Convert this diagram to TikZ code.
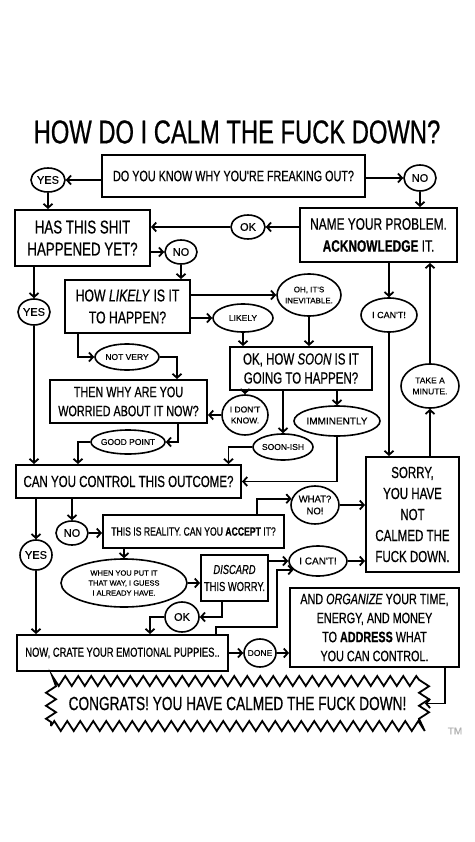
\documentclass[tikz,border=0pt]{standalone}
\usepackage{fontspec}
\newfontfamily\hand[FakeStretch=0.72,FakeBold=0.6]{Liberation Sans}
\newfontfamily\handn[FakeBold=0.5]{Liberation Sans}
\usetikzlibrary{arrows.meta,shapes.geometric,decorations.pathmorphing}
\newcommand\fsz[2]{\fontsize{#1}{#2}\selectfont}
\begin{document}
\begin{tikzpicture}[x=1pt,y=-1pt,
  box/.style={draw, line width=2pt, inner sep=0pt, align=center},
  oval/.style={draw, ellipse, line width=1.6pt, inner sep=-1.5pt, align=center},
  arr/.style={line width=1.8pt, -{Straight Barb[length=4pt,width=9pt]}}]
\useasboundingbox (0,0) rectangle (474,842);
\fill[white] (0,0) rectangle (474,842);

\node[font=\hand\fsz{33}{36}] (title) at (237,132) {HOW DO I CALM THE FUCK DOWN?};

\node[box, line width=2.8pt, minimum width=263pt, minimum height=42pt, font=\hand\fsz{15}{18}] (q1) at (233.5,176) {DO YOU KNOW WHY YOU'RE FREAKING OUT?};
\node[oval, minimum width=34pt, minimum height=24pt, font=\handn\fsz{11}{13}] (yes1) at (48,180) {YES};
\node[oval, minimum width=32pt, minimum height=26pt, font=\handn\fsz{11}{13}] (no1) at (420,178) {NO};

\node[box, minimum width=135pt, minimum height=56pt, font=\hand\fsz{18.5}{22}] (has) at (82.5,238) {HAS THIS SHIT\\HAPPENED YET?};
\node[box, minimum width=157pt, minimum height=54pt, font=\hand\fsz{16.5}{22}] (name) at (378.5,235) {NAME YOUR PROBLEM.\\\textbf{ACKNOWLEDGE} IT.};
\node[oval, minimum width=34pt, minimum height=24pt, font=\handn\fsz{11}{13}] (ok1) at (248,227) {OK};
\node[oval, minimum width=32pt, minimum height=24pt, font=\handn\fsz{11}{13}] (no2) at (181,252) {NO};
\node[oval, minimum width=32pt, minimum height=26pt, font=\handn\fsz{11}{13}] (yes2) at (34,312) {YES};

\node[box, minimum width=125pt, minimum height=53pt, font=\hand\fsz{17}{22}] (likelybox) at (127.5,306.5) {HOW \textit{LIKELY} IS IT\\TO HAPPEN?};
\node[oval, minimum width=64pt, minimum height=42pt, font=\handn\fsz{8}{11}] (inev) at (309,295) {OH, IT'S\\INEVITABLE.};
\node[oval, minimum width=60pt, minimum height=28pt, font=\handn\fsz{8.5}{10}] (likely) at (243,318) {LIKELY};
\node[oval, minimum width=64pt, minimum height=26pt, font=\handn\fsz{8.5}{10}] (notvery) at (127,357) {NOT VERY};

\node[box, minimum width=157pt, minimum height=43pt, font=\hand\fsz{15}{19}] (then) at (128.5,401.5) {THEN WHY ARE YOU\\WORRIED ABOUT IT NOW?};
\node[oval, minimum width=74pt, minimum height=24pt, font=\handn\fsz{8.5}{10}] (good) at (128,442) {GOOD POINT};

\node[box, minimum width=142pt, minimum height=43pt, font=\hand\fsz{16}{19}] (soon) at (301,368.5) {OK, HOW \textit{SOON} IS IT\\GOING TO HAPPEN?};
\node[oval, minimum width=46pt, minimum height=40pt, font=\handn\fsz{8.5}{11}] (dontknow) at (245,415) {I DON'T\\KNOW.};
\node[oval, minimum width=60pt, minimum height=26pt, font=\handn\fsz{8.5}{10}] (soonish) at (283,447) {SOON-ISH};
\node[oval, minimum width=86pt, minimum height=30pt, font=\handn\fsz{10}{12}] (imminent) at (337,421) {IMMINENTLY};

\node[oval, minimum width=56pt, minimum height=34pt, font=\handn\fsz{9}{11}] (icant1) at (389,315) {I CAN'T!};
\node[oval, minimum width=58pt, minimum height=44pt, font=\handn\fsz{8.5}{11}] (take) at (430,386) {TAKE A\\MINUTE.};
\node[box, minimum width=93pt, minimum height=115pt, font=\hand\fsz{16}{21}] (sorry) at (412.5,514.5) {SORRY,\\YOU HAVE\\NOT\\CALMED THE\\FUCK DOWN.};

\node[box, minimum width=225pt, minimum height=33pt, font=\hand\fsz{16}{19}] (can) at (128.5,481.5) {CAN YOU CONTROL THIS OUTCOME?};
\node[oval, minimum width=32pt, minimum height=30pt, font=\handn\fsz{11}{13}] (yes3) at (36,555) {YES};
\node[oval, minimum width=32pt, minimum height=24pt, font=\handn\fsz{11}{13}] (no3) at (72,533) {NO};
\node[box, minimum width=181pt, minimum height=33pt, font=\hand\fsz{12}{15}] (accept) at (193.5,531.5) {THIS IS REALITY. CAN YOU \textbf{ACCEPT} IT?};
\node[oval, minimum width=48pt, minimum height=38pt, font=\handn\fsz{9.5}{12}] (what) at (315,505) {WHAT?\\NO!};
\node[oval, minimum width=126pt, minimum height=48pt, font=\handn\fsz{7.5}{10}] (when) at (124,583) {WHEN YOU PUT IT\\THAT WAY, I GUESS\\I ALREADY HAVE.};
\node[box, minimum width=67pt, minimum height=46pt, font=\hand\fsz{13}{17}] (discard) at (234.5,578) {\textit{DISCARD}\\THIS WORRY.};
\node[oval, minimum width=58pt, minimum height=30pt, font=\handn\fsz{10}{12}] (icant2) at (318,561) {I CAN'T!};
\node[oval, minimum width=34pt, minimum height=30pt, font=\handn\fsz{11}{13}] (ok2) at (182,617) {OK};

\node[box, minimum width=211pt, minimum height=36pt, font=\hand\fsz{13}{16}] (crate) at (122.5,653) {NOW, CRATE YOUR EMOTIONAL PUPPIES..};
\node[oval, minimum width=32pt, minimum height=28pt, font=\handn\fsz{8.5}{10}] (done) at (260,653) {DONE};
\node[box, minimum width=169pt, minimum height=79pt, font=\hand\fsz{15}{19}] (organize) at (374.5,627.5) {AND \textit{ORGANIZE} YOUR TIME,\\ENERGY, AND MONEY\\TO \textbf{ADDRESS} WHAT\\YOU CAN CONTROL.};

\node[draw, line width=1.8pt, decorate, decoration={zigzag, segment length=13pt, amplitude=5pt}, minimum width=373pt, minimum height=45pt, inner sep=0pt, font=\hand\fsz{19}{22}] (congrats) at (237.5,703.5) {CONGRATS! YOU HAVE CALMED THE FUCK DOWN!};

\node[font=\handn\fsz{10}{12}, text=gray!60] (tm) at (455,731) {TM};

% connectors
\draw[arr] (q1.west |- yes1.east) -- (yes1.east);
\draw[arr] (yes1.south) -- (yes1.south |- has.north);
\draw[arr] (q1.east |- no1.west) -- (no1.west);
\draw[arr] (no1.south) -- (no1.south |- name.north);
\draw[arr] (name.west |- ok1.east) -- (ok1.east);
\draw[arr] (ok1.west) -- (ok1.west -| has.east);
\draw[arr] (has.east |- no2.west) -- (no2.west);
\draw[arr] (no2.south) -- (no2.south |- likelybox.north);
\draw[arr] (yes2.north |- has.south) -- (yes2.north);
\draw[arr] (yes2.south) -- (yes2.south |- can.north);
\draw[arr] (likelybox.east |- inev.west) -- (inev.west);
\draw[arr] (likelybox.east |- likely.west) -- (likely.west);
\draw[arr] ([xshift=-49.5pt]likelybox.south) |- (notvery.west);
\draw[arr] (notvery.east) -| ([xshift=48.5pt]then.north);
\draw[arr] ([xshift=49.5pt]then.south) |- (good.east);
\draw[arr] (good.west) -| ([xshift=-50.5pt]can.north);
\draw[arr] (likely.south) -- (likely.south |- soon.north);
\draw[arr] (inev.south) -- (inev.south |- soon.north);
\draw[arr] (dontknow.north |- soon.south) -- (dontknow.north);
\draw[arr] (dontknow.west) -- (dontknow.west -| then.east);
\draw[arr] (soonish.north |- soon.south) -- (soonish.north);
\draw[arr] (imminent.north |- soon.south) -- (imminent.north);
\draw[arr] (soonish.west) -| ([xshift=100pt]can.north);
\draw[arr] (imminent.south) |- (can.east);
\draw[arr] (icant1.north |- name.south) -- (icant1.north);
\draw[arr] (icant1.south) -- (icant1.south |- sorry.north);
\draw[arr] (take.south |- sorry.north) -- (take.south);
\draw[arr] (take.north) -- (take.north |- name.south);
\draw[arr] (yes3.north |- can.south) -- (yes3.north);
\draw[arr] (yes3.south) -- (yes3.south |- crate.north);
\draw[arr] (no3.north |- can.south) -- (no3.north);
\draw[arr] (no3.east) -- (no3.east -| accept.west);
\draw[arr] ([xshift=63.5pt]accept.north) |- (what.165);
\draw[arr] (what.east) -- (what.east -| sorry.west);
\draw[arr] (when.north |- accept.south) -- (when.north);
\draw[arr] (when.east) -- (when.east -| discard.west);
\draw[arr] (discard.east |- icant2.west) -- (icant2.west);
\draw[arr] (icant2.east) -- (icant2.east -| sorry.west);
\draw[arr] ([xshift=-12.5pt]discard.south) |- (ok2.east);
\draw[arr] (ok2.west) -| ([xshift=27.5pt]crate.north);
\coordinate (bend) at (277,627);
\draw[arr] ([xshift=93.5pt]crate.north) |- (bend) |- (icant2.200);
\draw[arr] (crate.east) -- (done.west);
\draw[arr] (done.east) -- (done.east -| organize.west);
\draw[arr] ([xshift=70.5pt]organize.south) |- (congrats.east);
\end{tikzpicture}
\end{document}
